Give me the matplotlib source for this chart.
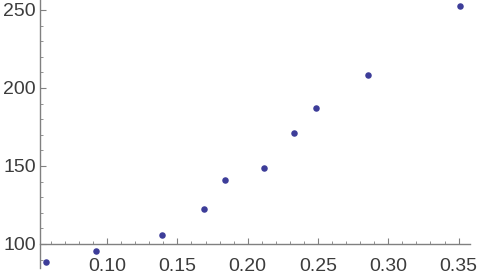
import matplotlib.pyplot as plt
from matplotlib.ticker import MultipleLocator

x_vals = [0.0566, 0.0922, 0.139, 0.169, 0.184, 0.2117, 0.233, 0.2487, 0.2856, 0.351]
y_vals = [88.5, 95.5, 105.8, 122.4, 141.0, 148.7, 171.2, 187.2, 208.3, 252.6]

x_ticks = [0.10, 0.15, 0.20, 0.25, 0.30, 0.35]
y_ticks = [100, 150, 200, 250]

plt.rcParams['font.family'] = ['Liberation Sans', 'DejaVu Sans']

fig = plt.figure(figsize=(4.8, 2.78), dpi=100)
ax = fig.add_axes([40 / 480, 10 / 278, 430 / 480, 268 / 278])

ax.scatter(x_vals, y_vals, s=22, color=(0.24, 0.24, 0.6), zorder=3, linewidths=0)

ax.set_xlim(0.0523, 0.3581)
ax.set_ylim(84.6, 256.4)

ax.spines['top'].set_visible(False)
ax.spines['right'].set_visible(False)
ax.spines['bottom'].set_position(('data', 100))
for s in ['left', 'bottom']:
    ax.spines[s].set_color('#808080')
    ax.spines[s].set_linewidth(1.0)

ax.set_xticks(x_ticks)
ax.set_xticklabels(['%.2f' % v for v in x_ticks])
ax.set_yticks(y_ticks)
ax.xaxis.set_minor_locator(MultipleLocator(0.01))
ax.yaxis.set_minor_locator(MultipleLocator(10))

ax.tick_params(which='both', direction='in', colors='#808080', labelcolor='#3c3c3c', labelsize=14)
ax.tick_params(which='major', length=4, width=0.8)
ax.tick_params(which='minor', length=2, width=0.6)
ax.tick_params(axis='x', pad=10)
ax.tick_params(axis='y', pad=3)

fig.savefig('out.png', dpi=100)
